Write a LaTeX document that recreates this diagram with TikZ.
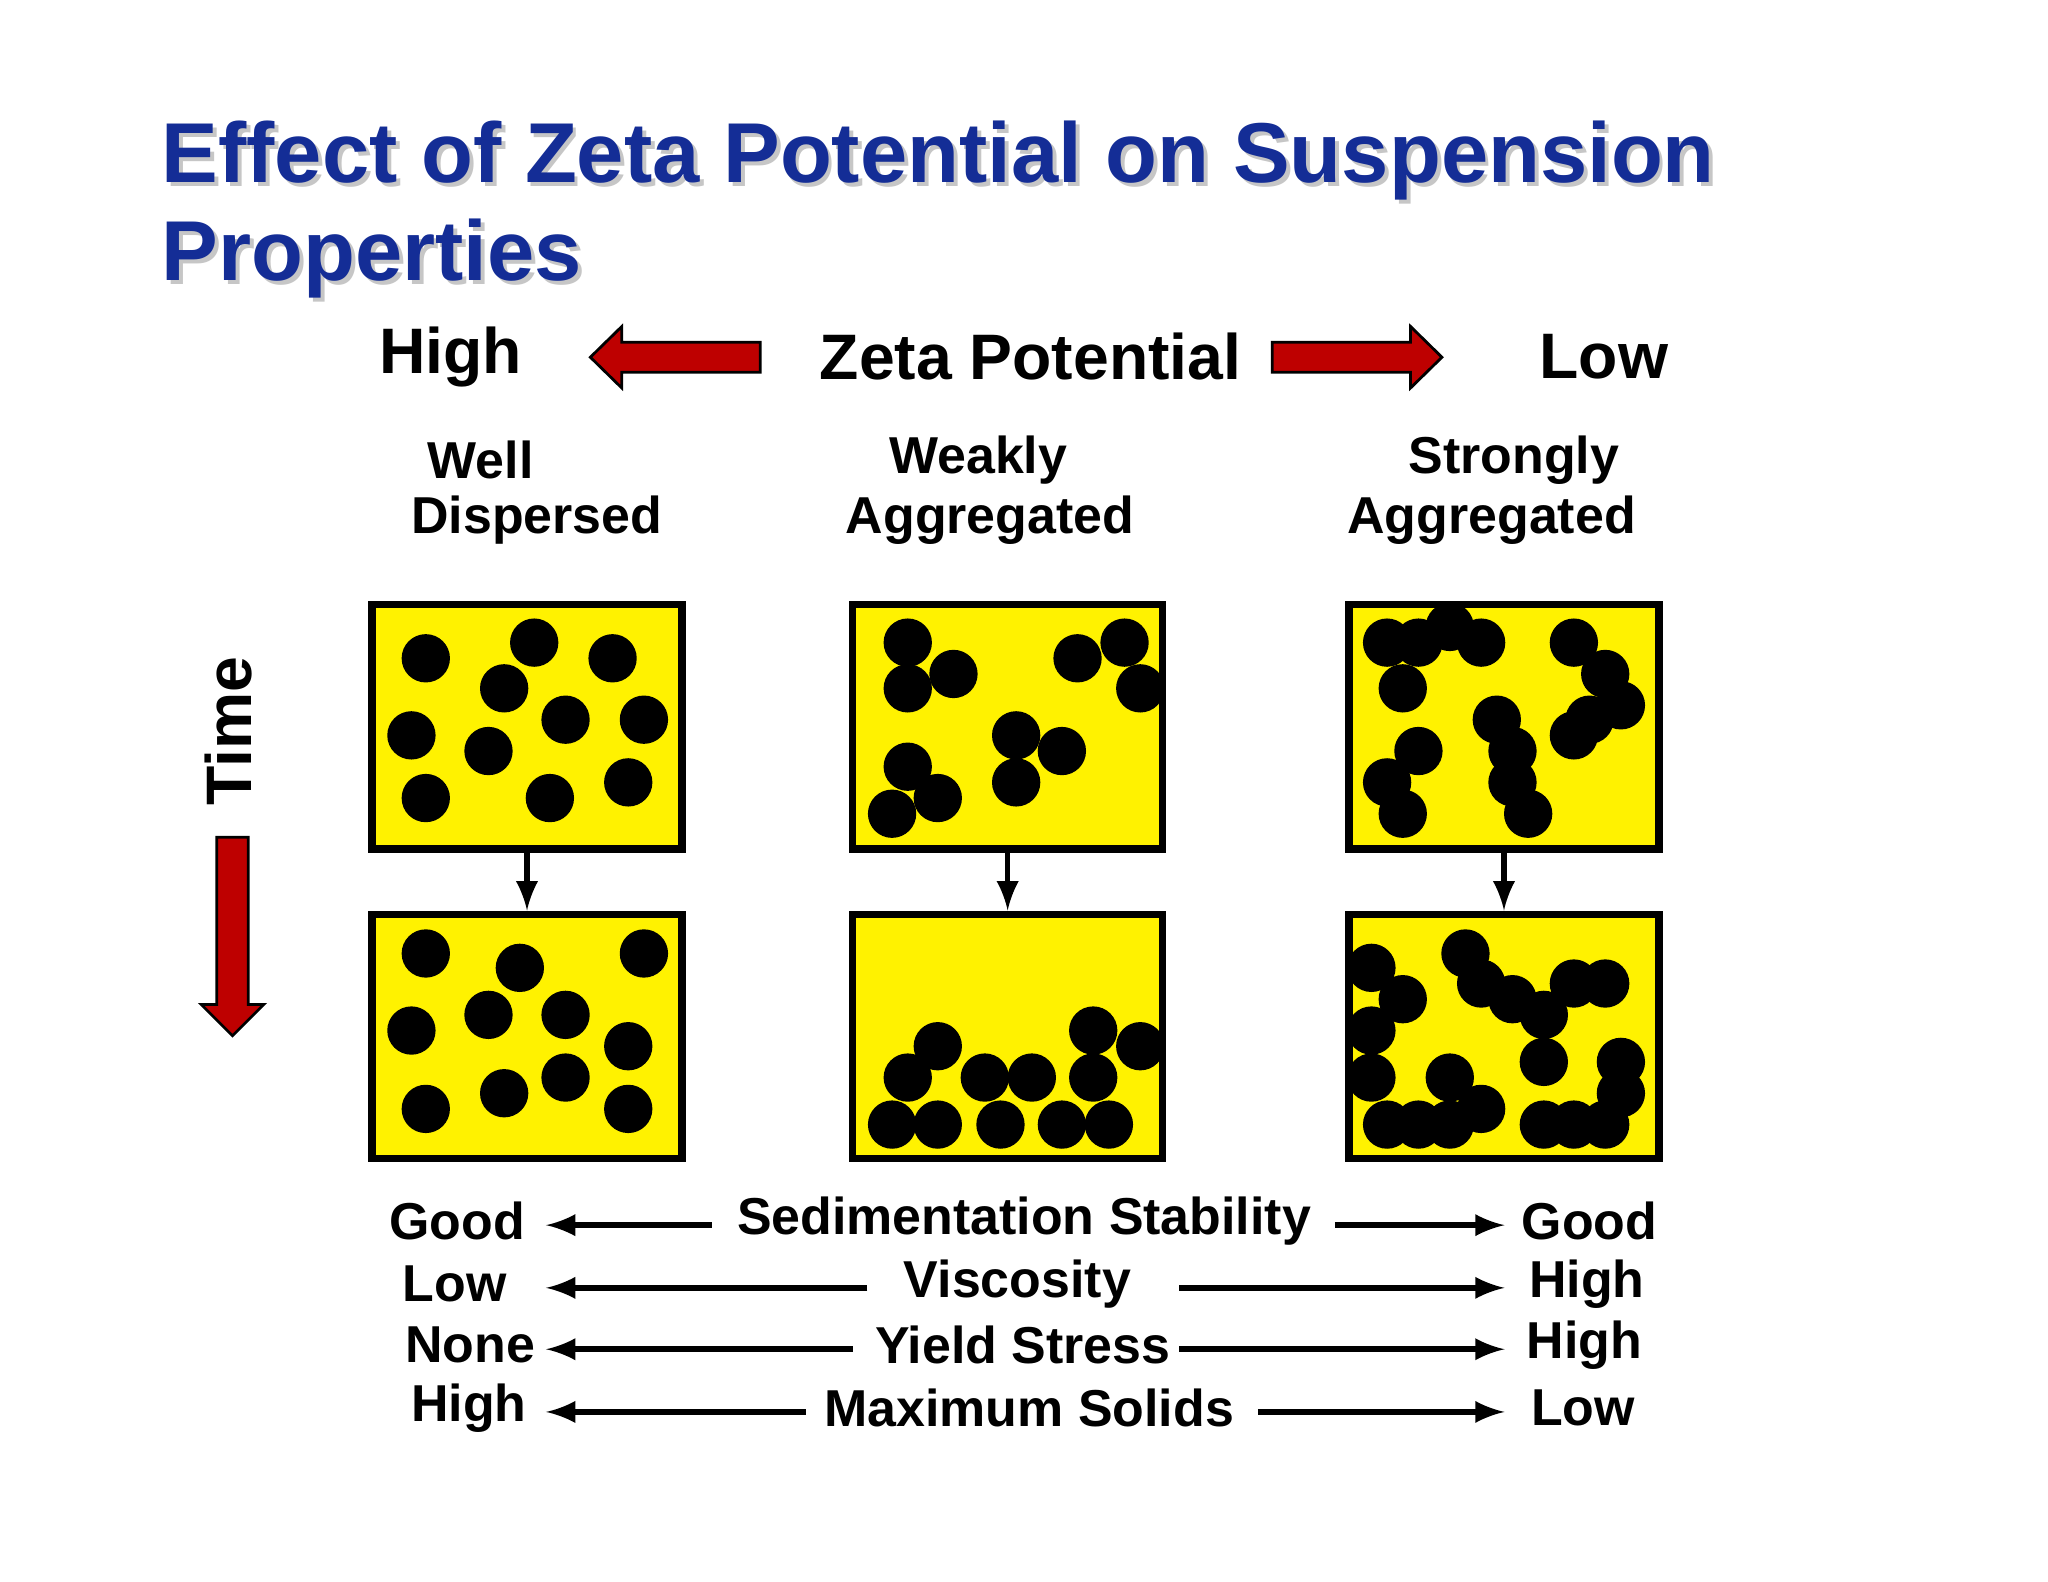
\documentclass[tikz,border=0pt]{standalone}
\usepackage{fontspec}
\setmainfont{Liberation Sans}
\begin{document}
\begin{tikzpicture}[x=0.01cm,y=-0.01cm,
  ttl/.style={font=\bfseries\fontsize{18.5}{20}\selectfont,text=titleblue,anchor=base west,inner sep=0},
  big/.style={font=\bfseries\fontsize{14}{16}\selectfont,inner sep=0},
  lab/.style={font=\bfseries\fontsize{11.3}{13}\selectfont,inner sep=0},
  panel/.style={draw=black,line width=1.6pt,fill=yellow},
  red arrow/.style={fill=arrred,draw=black,line width=0.6pt},
  thin arrow/.style={-latex,line width=1.2pt},
  ball/.style={fill=black}]
\definecolor{titleblue}{RGB}{20,45,150}
\definecolor{arrred}{RGB}{190,0,0}
\useasboundingbox[fill=white] (0,0) rectangle (1568,1211);
% title with shadow
\node[ttl,text=gray!45] at (126,143) {Effect of Zeta Potential on Suspension};
\node[ttl,text=gray!45] at (126,218) {Properties};
\node[ttl] (t1) at (123,140) {Effect of Zeta Potential on Suspension};
\node[ttl] (t2) at (123,215) {Properties};
% header
\node[big] (hi) at (345,273) {High};
\node[big] (zp) at (789,273) {Zeta Potential};
\node[big] (lo) at (1228,273) {Low};
\draw[red arrow] (582,262) -- (476,262) -- (476,250) -- (452,273.5) -- (476,297) -- (476,285) -- (582,285) -- cycle;
\draw[red arrow] (974,262) -- (1080,262) -- (1080,250) -- (1104,273.5) -- (1080,297) -- (1080,285) -- (974,285) -- cycle;
% column heads
\node[lab] (w1) at (368,352) {Well};
\node[lab] (w2) at (411,398) {Dispersed};
\node[lab] (m1) at (749,352) {Weakly};
\node[lab] (m2) at (758,398) {Aggregated};
\node[lab] (s1) at (1159,352) {Strongly};
\node[lab] (s2) at (1142,398) {Aggregated};
% time
\node[big,rotate=90] (time) at (175,560) {Time};
\draw[red arrow] (166,641) -- (190,641) -- (190,769) -- (202,769) -- (178,793) -- (154,769) -- (166,769) -- cycle;
% panels
\node[panel,minimum width=2.37cm,minimum height=1.87cm,inner sep=0] (a1) at (403.5,556.5) {};
\node[panel,minimum width=2.37cm,minimum height=1.87cm,inner sep=0] (a2) at (403.5,793.5) {};
\node[panel,minimum width=2.37cm,minimum height=1.87cm,inner sep=0] (b1) at (771.5,556.5) {};
\node[panel,minimum width=2.37cm,minimum height=1.87cm,inner sep=0] (b2) at (771.5,793.5) {};
\node[panel,minimum width=2.37cm,minimum height=1.87cm,inner sep=0] (c1) at (1151.5,556.5) {};
\node[panel,minimum width=2.37cm,minimum height=1.87cm,inner sep=0] (c2) at (1151.5,793.5) {};
\draw[thin arrow] (a1.south) -- (a2.north);
\draw[thin arrow] (b1.south) -- (b2.north);
\draw[thin arrow] (c1.south) -- (c2.north);
% balls
\foreach \p in {(326,504),(409,492),(469,504),(386,527),(433,551),(493,551),(315,563),(374,575),(326,611),(421,611),(481,599),
 (326,730),(398,741),(493,730),(374,777),(433,777),(315,789),(481,801),(433,825),(386,837),(326,849),(481,849),
 (695,492),(730,516),(695,527),(825,504),(861,492),(873,527),(778,563),(813,575),(778,599),(695,587),(718,611),(683,623),
 (718,801),(695,825),(754,825),(790,825),(837,789),(873,801),(837,825),(683,861),(718,861),(766,861),(813,861),(849,861),
 (1062,492),(1086,492),(1110,480),(1134,492),(1074,527),(1205,492),(1229,516),(1241,540),(1217,551),(1205,563),(1146,551),(1158,575),(1086,575),(1062,599),(1158,599),(1074,623),(1170,623),
 (1050,741),(1074,765),(1050,789),(1050,825),(1122,730),(1134,753),(1158,765),(1182,777),(1205,753),(1229,753),(1182,813),(1241,813),(1241,837),(1110,825),(1134,849),(1062,861),(1086,861),(1110,861),(1182,861),(1205,861),(1229,861)}
  \fill[ball] \p circle (18.5);
% property rows
\node[lab] (l1) at (350,935) {Good};
\node[lab] (c1t) at (784,935) {Sedimentation Stability};
\node[lab] (r1) at (1217,935) {Good};
\node[lab] (l2) at (348,983) {Low};
\node[lab] (c2t) at (779,983) {Viscosity};
\node[lab] (r2) at (1215,983) {High};
\node[lab] (l3) at (360,1030) {None};
\node[lab] (c3t) at (783,1030) {Yield Stress};
\node[lab] (r3) at (1213,1030) {High};
\node[lab] (l4) at (359,1078) {High};
\node[lab] (c4t) at (788,1078) {Maximum Solids};
\node[lab] (r4) at (1212,1078) {Low};
\coordinate (p1a) at (545,938); \coordinate (p1b) at (418,938);
\coordinate (p1c) at (1022,938); \coordinate (p1d) at (1152,938);
\coordinate (p2a) at (664,986); \coordinate (p2b) at (418,986);
\coordinate (p2c) at (903,986); \coordinate (p2d) at (1152,986);
\coordinate (p3a) at (653,1033); \coordinate (p3b) at (418,1033);
\coordinate (p3c) at (903,1033); \coordinate (p3d) at (1152,1033);
\coordinate (p4a) at (617,1081); \coordinate (p4b) at (418,1081);
\coordinate (p4c) at (963,1081); \coordinate (p4d) at (1152,1081);
\foreach \i in {1,2,3,4}{
  \draw[thin arrow] (p\i a) -- (p\i b);
  \draw[thin arrow] (p\i c) -- (p\i d);
}
\end{tikzpicture}
\end{document}
